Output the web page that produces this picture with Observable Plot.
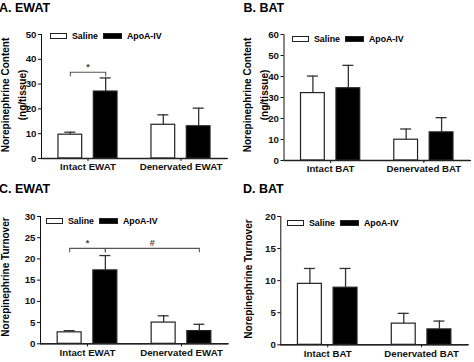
<!DOCTYPE html>
<html>
<head>
<meta charset="utf-8">
<script src="https://cdn.jsdelivr.net/npm/d3@7"></script>
<script src="https://cdn.jsdelivr.net/npm/@observablehq/plot@0.6"></script>
<style>
  body { margin: 0; background: #fff; }
  #fig { position: relative; width: 474px; height: 362px; overflow: hidden;
         font-family: "Liberation Sans", Arial, sans-serif; font-weight: bold; color: #000; }
  .panel { position: absolute; width: 237px; height: 181px; }
  .panel svg { position: absolute; left: 0; top: 0; }
  .panel svg text { font-weight: bold; }
  .title { position: absolute; font-size: 12.5px; line-height: 14px; white-space: nowrap; }
  .ytitle { position: absolute; font-size: 10px; line-height: 16.5px; white-space: nowrap;
            text-align: center; transform: translate(-50%, -50%) rotate(-90deg); }
  .legend { position: absolute; display: flex; align-items: center; height: 12px;
            font-size: 8.8px; white-space: nowrap; transform: translateY(-50%); }
  .legend .sw { width: 15px; height: 4px; border: 1px solid #222; margin-right: 5px; }
  .legend .lab { margin-right: 5px; }
</style>
</head>
<body>
<div id="fig"></div>
<script>
// ---- data ----
const series = ["Saline", "ApoA-IV"];
const ewatCategories = ["Intact EWAT", "Denervated EWAT"];
const batCategories = ["Intact BAT", "Denervated BAT"];

// A. EWAT norepinephrine content (ng/tissue)
const ewatContentSaline = [9.6, 13.6];
const ewatContentSalineErr = [1.0, 4.0];
const ewatContentApoA = [27.0, 13.0];
const ewatContentApoAErr = [5.5, 7.3];

// B. BAT norepinephrine content (ng/tissue)
const batContentSaline = [32.1, 9.9];
const batContentSalineErr = [8.1, 5.1];
const batContentApoA = [34.4, 13.4];
const batContentApoAErr = [10.9, 7.0];

// C. EWAT norepinephrine turnover
const ewatTurnoverSaline = [2.7, 5.0];
const ewatTurnoverSalineErr = [0.4, 1.6];
const ewatTurnoverApoA = [17.3, 3.0];
const ewatTurnoverApoAErr = [3.5, 1.6];

// D. BAT norepinephrine turnover
const batTurnoverSaline = [9.5, 3.3];
const batTurnoverSalineErr = [2.4, 1.6];
const batTurnoverApoA = [8.9, 2.4];
const batTurnoverApoAErr = [3.0, 1.3];

// y axis tick values
const ticksA = [0, 10, 20, 30, 40, 50];
const ticksB = [0, 10, 20, 30, 40, 50, 60];
const ticksC = [0, 5, 10, 15, 20, 25, 30];
const ticksD = [0, 5, 10, 15, 20];

// significance brackets: [category, series] -> [category, series], level, label
const bracketsA = [{from: [0, 0], to: [0, 1], level: 34.8, label: "*"}];
const bracketsC = [
  {from: [0, 0], to: [0, 1], level: 22.5, label: "*"},
  {from: [0, 1], to: [1, 1], level: 22.5, label: "#"}
];

// ---- layout / style constants ----
const GROUP_OFFSET = 0.19;  // series offset within a category (x units)
const BAR_W = 0.255;        // bar width (x units)
const CAP_PX = 5.5;         // half width of error caps (px)
const DROP_PX = 3.5;        // bracket end drop (px)
const FONT = "'Liberation Sans', Arial, sans-serif";

function makePanel(cfg) {
  const {cats, saline, salineErr, apoa, apoaErr, ticks, margins, brackets = []} = cfg;
  const rows = [];
  cats.forEach((c, i) => {
    rows.push({cat: i, s: 0, v: saline[i], e: salineErr[i]});
    rows.push({cat: i, s: 1, v: apoa[i], e: apoaErr[i]});
  });
  const pos = (cat, s) => cat + (s ? 1 : -1) * GROUP_OFFSET;
  const W = 237, H = 181;
  const yMax = ticks[ticks.length - 1];
  const pxX = (W - margins.marginLeft - margins.marginRight) / 2;
  const pxY = (H - margins.marginTop - margins.marginBottom) / yMax;
  const cap = CAP_PX / pxX;
  const drop = DROP_PX / pxY;

  const bracketPaths = [];
  brackets.forEach((b, k) => {
    const x1 = pos(b.from[0], b.from[1]), x2 = pos(b.to[0], b.to[1]);
    bracketPaths.push({k, x: x1, y: b.level - drop});
    bracketPaths.push({k, x: x1, y: b.level});
    bracketPaths.push({k, x: x2, y: b.level});
    bracketPaths.push({k, x: x2, y: b.level - drop});
  });
  const bracketLabels = brackets.map(b => ({
    x: (pos(b.from[0], b.from[1]) + pos(b.to[0], b.to[1])) / 2,
    y: b.level, label: b.label
  }));

  return Plot.plot({
    width: W, height: H, ...margins,
    style: {fontFamily: FONT, fontWeight: "bold", fontSize: "9.7px", color: "#111", background: "transparent", overflow: "visible"},
    x: {domain: [-0.5, 1.5], ticks: [0, 1], tickFormat: i => cats[i], tickSize: 3, tickPadding: 2, label: null, line: true},
    y: {domain: [0, yMax], ticks, tickSize: 3, tickPadding: 2, label: null, line: true},
    marks: [
      Plot.rect(rows, {
        x1: d => pos(d.cat, d.s) - BAR_W / 2,
        x2: d => pos(d.cat, d.s) + BAR_W / 2,
        y1: 0, y2: "v",
        fill: d => d.s ? "#000" : "#fff",
        stroke: "#222", strokeWidth: 1.2
      }),
      Plot.ruleX(rows, {x: d => pos(d.cat, d.s), y1: "v", y2: d => d.v + d.e, stroke: "#333", strokeWidth: 1.3}),
      Plot.ruleY(rows, {
        x1: d => pos(d.cat, d.s) - cap, x2: d => pos(d.cat, d.s) + cap,
        y: d => d.v + d.e, stroke: "#333", strokeWidth: 1.3
      }),
      Plot.line(bracketPaths, {x: "x", y: "y", z: "k", stroke: "#555", strokeWidth: 1.1}),
      Plot.text(bracketLabels, {x: "x", y: "y", text: "label", dy: -5, fontSize: 9, fill: "#444"}),
      Plot.ruleY([0], {stroke: "#222", strokeWidth: 1.5})
    ]
  });
}

const panels = [
  {left: 0, top: 0, title: "A. EWAT", titleX: -1, ytitle: "Norepinephrine Content<br>(ng/tissue)", ytX: 13.8, ytY: 95,
   legendX: 50, legendY: 35.7,
   cats: ewatCategories, saline: ewatContentSaline, salineErr: ewatContentSalineErr,
   apoa: ewatContentApoA, apoaErr: ewatContentApoAErr, ticks: ticksA, brackets: bracketsA,
   margins: {marginLeft: 41, marginRight: 10, marginTop: 34, marginBottom: 23}},
  {left: 237, top: 0, title: "B. BAT", titleX: 6.5, ytitle: "Norepinephrine Content<br>(ng/tissue)", ytX: 18.5, ytY: 95,
   legendX: 55, legendY: 38.7,
   cats: batCategories, saline: batContentSaline, salineErr: batContentSalineErr,
   apoa: batContentApoA, apoaErr: batContentApoAErr, ticks: ticksB,
   margins: {marginLeft: 46.5, marginRight: 4, marginTop: 34, marginBottom: 21}},
  {left: 0, top: 181, title: "C. EWAT", titleX: -1, ytitle: "Norepinephrine Turnover", ytX: 6, ytY: 96,
   legendX: 46, legendY: 40,
   cats: ewatCategories, saline: ewatTurnoverSaline, salineErr: ewatTurnoverSalineErr,
   apoa: ewatTurnoverApoA, apoaErr: ewatTurnoverApoAErr, ticks: ticksC, brackets: bracketsC,
   margins: {marginLeft: 40, marginRight: 9, marginTop: 35, marginBottom: 18.7}},
  {left: 237, top: 181, title: "D. BAT", titleX: 6, ytitle: "Norepinephrine Turnover", ytX: 12, ytY: 98,
   legendX: 50, legendY: 41.8,
   cats: batCategories, saline: batTurnoverSaline, salineErr: batTurnoverSalineErr,
   apoa: batTurnoverApoA, apoaErr: batTurnoverApoAErr, ticks: ticksD,
   margins: {marginLeft: 43.3, marginRight: 6, marginTop: 35, marginBottom: 17.7}}
];

const fig = document.getElementById("fig");
for (const p of panels) {
  const div = document.createElement("div");
  div.className = "panel";
  div.style.left = p.left + "px";
  div.style.top = p.top + "px";
  div.appendChild(makePanel(p));

  const t = document.createElement("div");
  t.className = "title";
  t.textContent = p.title;
  t.style.left = p.titleX + "px";
  t.style.top = "1px";
  div.appendChild(t);

  const yt = document.createElement("div");
  yt.className = "ytitle";
  yt.innerHTML = p.ytitle;
  yt.style.left = p.ytX + "px";
  yt.style.top = p.ytY + "px";
  div.appendChild(yt);

  const lg = document.createElement("div");
  lg.className = "legend";
  lg.style.left = p.legendX + "px";
  lg.style.top = p.legendY + "px";
  series.forEach((s, i) => {
    const sw = document.createElement("span");
    sw.className = "sw";
    sw.style.background = i ? "#000" : "#fff";
    if (i) sw.style.width = "17px";
    const lab = document.createElement("span");
    lab.className = "lab";
    lab.textContent = s;
    lg.appendChild(sw);
    lg.appendChild(lab);
  });
  div.appendChild(lg);
  fig.appendChild(div);
}
</script>
</body>
</html>
